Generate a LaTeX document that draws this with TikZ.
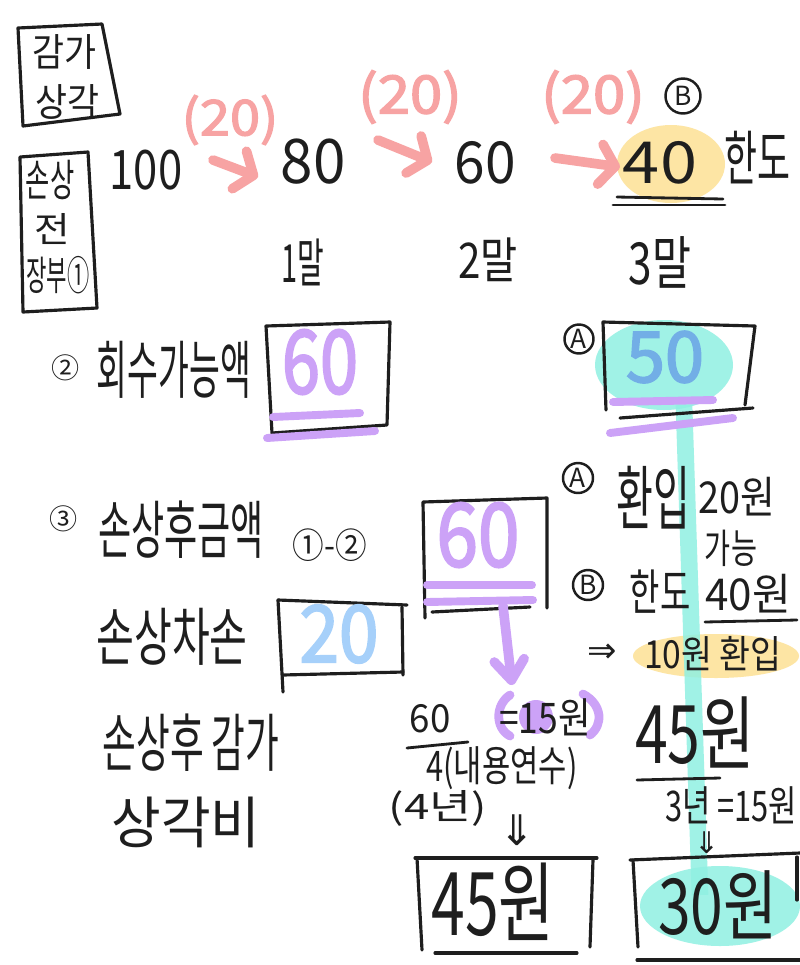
\documentclass[tikz,border=0pt]{standalone}
\usepackage{fontspec}
\usepackage{graphicx}
\usetikzlibrary{arrows.meta}
\newfontfamily\hand{Noto Sans CJK KR}
\newfontfamily\handb[FakeBold=2.5]{Noto Sans CJK KR}
\newfontfamily\symf{DejaVu Sans}
\newcommand\hw[3]{\scalebox{#2}[1]{\fontsize{#1}{#1}\selectfont #3}}
\definecolor{ink}{HTML}{1E1E1E}
\definecolor{pinkm}{HTML}{F7A3A3}
\definecolor{yelm}{HTML}{FDE5A4}
\definecolor{purm}{HTML}{CCA2F7}
\definecolor{bluem}{HTML}{A6D0FA}
\definecolor{cyanm}{HTML}{90F0E2}
\definecolor{bluefifty}{HTML}{72AEE6}
\begin{document}
\begin{tikzpicture}[x=0.02cm,y=-0.02cm,
  t/.style={inner sep=0pt,text=ink,font=\hand},
  box/.style={draw=ink,line width=1.8pt,line cap=round,line join=round},
  ul/.style={draw=ink,line width=1.6pt,line cap=round},
  pul/.style={draw=purm,line width=4.5pt,line cap=round},
  pinkarrow/.style={draw=pinkm,line width=5.5pt,line cap=round,
    -{Straight Barb[round,length=3mm,width=8mm]}},
  purarrow/.style={draw=purm,line width=5.5pt,line cap=round,
    -{Straight Barb[round,length=4mm,width=6mm]}},
  circ/.style={circle,draw=ink,line width=1.4pt,inner sep=0pt,text=ink,font=\hand\fontsize{15pt}{15pt}\selectfont},
  pinkt/.style={inner sep=0pt,text=pinkm,font=\handb}
]
\useasboundingbox[fill=white] (0,0) rectangle (800,965);

% highlights
\fill[yelm] (671,164) ellipse [x radius=54, y radius=39];
\fill[yelm] (716,656) ellipse [x radius=83, y radius=22];
\fill[cyanm,opacity=0.85] (664,365) ellipse [x radius=69, y radius=45];
\fill[cyanm,opacity=0.85] (720,906) ellipse [x radius=80, y radius=40];
\draw[cyanm,opacity=0.85,line width=9.5pt] (684,405) -- (700,895);

% left boxes
\draw[box] (18,28) -- (102,24) -- (120,114) -- (23,126) -- cycle;
\draw[box] (20,157) -- (88,152) -- (97,308) -- (23,312) -- cycle;
\node[t] (gamga) at (65,52) {\hw{22pt}{0.9}{감가}};
\node[t] (sanggak) at (68,102) {\hw{22pt}{0.9}{상각}};
\node[t] (sonsang) at (50,180) {\hw{25pt}{0.6}{손상}};
\node[t] (jeon) at (52,229) {\hw{20pt}{1.1}{전}};
\node[t] (jangbu) at (58,275) {\hw{23pt}{0.55}{장부①}};

% top row
\node[t] (n100) at (146,170) {\hw{31pt}{0.8}{100}};
\node[t] (n80) at (313,162) {\hw{35pt}{0.95}{80}};
\node[t] (n60) at (485,163) {\hw{33pt}{0.95}{60}};
\node[t] (n40) at (660,163) {\hw{33pt}{1.15}{40}};
\node[t] (hando) at (757,158) {\hw{34pt}{0.6}{한도}};
\draw[ul] (617,197) -- (723,199);
\draw[ul] (613,205) -- (725,205);
\node[circ,minimum size=0.7cm] (cB1) at (683,96) {B};

\node[pinkt] (d1) at (230,120) {\hw{28pt}{1.1}{(20)}};
\node[pinkt] (d2) at (410,97) {\hw{30pt}{1.1}{(20)}};
\node[pinkt] (d3) at (593,97) {\hw{30pt}{1.1}{(20)}};
\coordinate (p1s) at (213,160); \coordinate (p1e) at (258,177);
\coordinate (p2s) at (378,140); \coordinate (p2e) at (432,162);
\coordinate (p3s) at (555,158); \coordinate (p3e) at (620,167);
\draw[pinkarrow] (p1s) -- (p1e);
\draw[pinkarrow] (p2s) -- (p2e);
\draw[pinkarrow] (p3s) -- (p3e);

\node[t] (m1) at (303,262) {\hw{30pt}{0.55}{1말}};
\node[t] (m2) at (488,260) {\hw{28pt}{0.82}{2말}};
\node[t] (m3) at (660,262) {\hw{33pt}{0.73}{3말}};

% recoverable amount
\node[t] (c2) at (66,368) {\hw{16pt}{1}{②}};
\node[t] (hoesu) at (174,370) {\hw{36pt}{0.53}{회수가능액}};
\draw[box] (266,326) -- (390,322) -- (387,425) -- (272,433) -- cycle;
\node[inner sep=0pt,text=purm,font=\handb] (v60a) at (320,362) {\hw{50pt}{0.78}{60}};
\draw[pul] (273,417) -- (360,413);
\draw[pul] (267,438) -- (375,431);

% box 50
\draw[box] (606,410) -- (603,322) -- (755,326) -- (745,405);
\draw[box] (620,418) -- (753,408);
\node[inner sep=0pt,text=bluefifty,font=\handb] (v50) at (665,357) {\hw{40pt}{1}{50}};
\node[circ,minimum size=0.58cm] (cA1) at (579,339) {A};
\draw[pul] (613,402) -- (713,400);
\draw[pul] (610,433) -- (733,418);

% post impairment
\node[t] (c3) at (64,519) {\hw{16pt}{1}{③}};
\node[t] (husang) at (181,530) {\hw{36pt}{0.57}{손상후금액}};
\node[t] (c12) at (330,545) {\hw{20pt}{0.9}{①-②}};
\draw[box] (425,618) -- (423,502) -- (547,498) -- (547,608);
\draw[box] (432,612) -- (530,607);
\node[inner sep=0pt,text=purm,font=\handb] (v60b) at (478,535) {\hw{50pt}{0.85}{60}};
\draw[pul] (427,585) -- (532,585);
\draw[pul] (427,602) -- (533,600);

\node[t] (chason) at (172,637) {\hw{36pt}{0.65}{손상차손}};
\draw[box] (278,600) -- (407,605);
\draw[box] (402,607) -- (403,675);
\draw[box] (283,675) -- (403,672);
\draw[box] (278,600) -- (283,692);
\node[inner sep=0pt,text=bluem,font=\handb] (v20) at (339,634) {\hw{45pt}{0.9}{20}};

\node[t] (gamga2) at (191,743) {\hw{36pt}{0.58}{손상후 감가}};
\node[t] (sanggak2) at (186,822) {\hw{32pt}{0.96}{상각비}};

% purple blob and arrow
\fill[purm] (536,717) circle [radius=17];
\draw[purm,line width=5pt,line cap=round] (510,695) .. controls (495,705) and (495,728) .. (510,736);
\draw[purm,line width=5pt,line cap=round] (583,694) .. controls (603,705) and (603,725) .. (590,735);
\coordinate (pas) at (503,606); \coordinate (pae) at (512,685);
\draw[purarrow] (pas) -- (pae);

\node[t] (num60) at (430,719) {\hw{22pt}{0.95}{60}};
\draw[ul] (407,748) -- (468,742);
\node[t] (den) at (502,768) {\hw{24pt}{0.73}{4(내용연수)}};
\node[t] (eq15) at (545,717) {\hw{24pt}{0.84}{=15원}};
\node[t] (yr4) at (438,808) {\hw{20pt}{1.3}{(4년)}};
\node[inner sep=0pt,text=ink,font=\symf] (dar1) at (517,830) {\hw{24pt}{1}{⇓}};
\draw[box] (415,858) -- (597,858);
\draw[box] (417,858) -- (422,950);
\draw[box] (593,860) -- (590,947);
\draw[box] (435,953) -- (577,953);
\node[t] (w45) at (493,902) {\hw{50pt}{0.69}{45원}};

% right column
\node[circ,minimum size=0.6cm] (cA2) at (578,478) {A};
\node[t] (hwanip) at (653,498) {\hw{40pt}{0.57}{환입}};
\node[t] (w20) at (737,497) {\hw{25pt}{0.86}{20원}};
\node[t] (ganeung) at (731,548) {\hw{23pt}{0.7}{가능}};
\node[circ,minimum size=0.6cm] (cB2) at (588,585) {B};
\node[t] (hando2) at (660,592) {\hw{28pt}{0.67}{한도}};
\node[t] (w40) at (748,594) {\hw{25pt}{0.96}{40원}};
\draw[ul] (705,622) -- (797,620);
\node[inner sep=0pt,text=ink,font=\symf] (rar) at (602,653) {\hw{20pt}{1}{⇒}};
\node[t] (w10) at (713,654) {\hw{22pt}{0.87}{10원 환입}};
\node[t] (w45r) at (695,732) {\hw{46pt}{0.73}{45원}};
\draw[ul] (637,780) -- (720,778);
\node[t] (yr3) at (731,805) {\hw{24pt}{0.73}{3년 =15원}};
\node[inner sep=0pt,text=ink,font=\symf] (dar2) at (707,843) {\hw{17pt}{1}{⇓}};
\draw[box] (630,860) -- (800,853);
\draw[box] (633,860) -- (638,947);
\draw[box] (797,857) -- (797,900);
\draw[box] (637,960) -- (800,960);
\node[t] (w30) at (718,905) {\hw{44pt}{0.76}{30원}};
\end{tikzpicture}
\end{document}
